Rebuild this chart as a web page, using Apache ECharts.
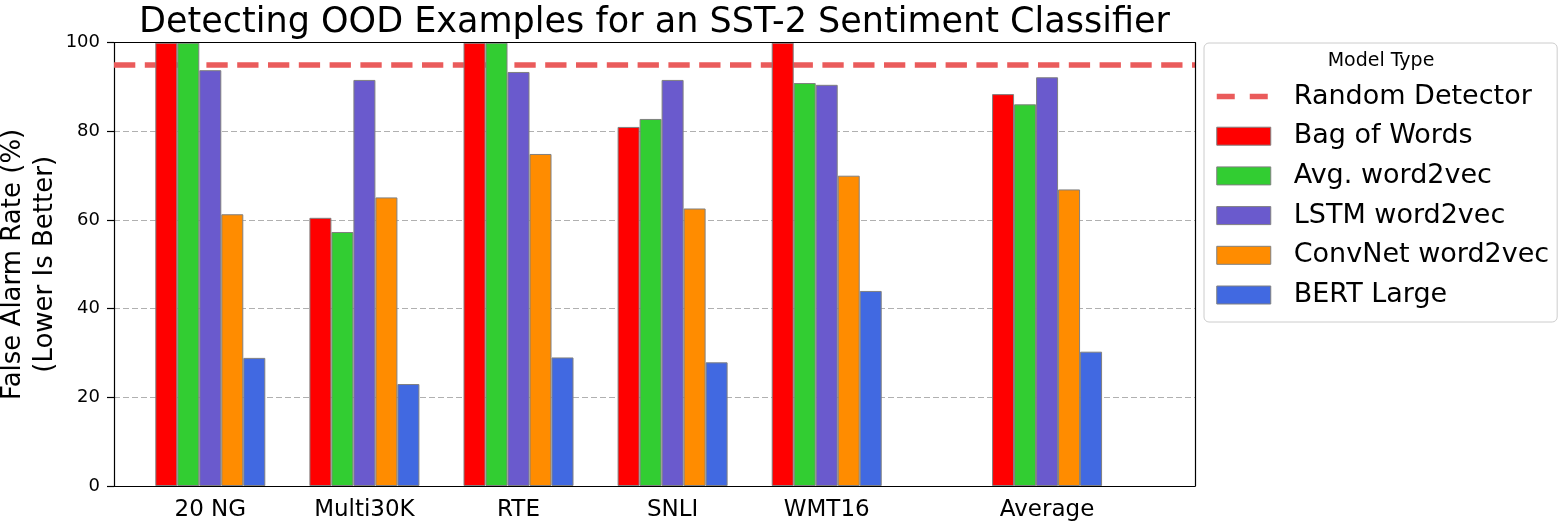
<!DOCTYPE html>
<html>
<head>
<meta charset="utf-8">
<script src="https://cdn.jsdelivr.net/npm/echarts@6/dist/echarts.min.js"></script>
<style>
  html, body { margin: 0; padding: 0; background: #fff; }
  #chart { width: 1563px; height: 525px; }
</style>
</head>
<body>
<div id="chart"></div>
<script>
// ---- data ----
const categories = ['20 NG', 'Multi30K', 'RTE', 'SNLI', 'WMT16', 'Average'];
const groupPositions = [0, 1, 2, 3, 4, 5.43];
const bagOfWords = [100, 60.5, 100, 81.0, 100, 88.4];
const avgWord2vec = [100, 57.3, 100, 82.8, 90.9, 86.1];
const lstmWord2vec = [93.8, 91.6, 93.4, 91.6, 90.5, 92.2];
const convnetWord2vec = [61.3, 65.1, 74.9, 62.6, 70.0, 66.9];
const bertLarge = [28.9, 23.0, 29.0, 27.9, 44.0, 30.3];
const randomDetector = 95;

const FONT = 'DejaVu Sans';
const xMin = -0.625, xMax = 6.39;
const LINE_COLOR = '#ea5b5b';

const chart = echarts.init(document.getElementById('chart'), null, { renderer: 'canvas' });

function pairs(vals) { return vals.map((v, i) => [groupPositions[i], v]); }
function barSeries(name, vals, color) {
  return {
    name, type: 'bar', data: pairs(vals), barWidth: 22, barGap: '0%', z: 2,
    itemStyle: { color, borderColor: '#808080', borderWidth: 1 },
    emphasis: { disabled: true }
  };
}
const barItemStyle = { borderColor: '#808080', borderWidth: 1 };

const option = {
  animation: false,
  title: [
    { text: 'Detecting OOD Examples for an SST-2 Sentiment Classifier', left: 654.5, top: 5, textAlign: 'center', padding: 0,
      textStyle: { fontFamily: FONT, fontSize: 35, fontWeight: 'normal', color: '#000' } },
    { text: 'Model Type', left: 1381, top: 52, textAlign: 'center', padding: 0,
      textStyle: { fontFamily: FONT, fontSize: 19, fontWeight: 'normal', color: '#000' } }
  ],
  grid: { left: 114, right: 368, top: 42.7, bottom: 39, containLabel: false, outerBoundsMode: 'none' },
  legend: {
    orient: 'vertical', left: 1204, top: 43, padding: [40, 8, 13.5, 10],
    itemWidth: 54, itemHeight: 18, itemGap: 12.7,
    borderColor: '#cccccc', borderWidth: 1, borderRadius: 5, backgroundColor: '#fff',
    textStyle: { fontFamily: FONT, fontSize: 27, color: '#000', lineHeight: 27, padding: [0, 0, 0, 18] },
    data: [
      { name: 'Random Detector',
        itemStyle: { color: 'rgba(0,0,0,0)', borderColor: 'rgba(0,0,0,0)', borderWidth: 0 },
        lineStyle: { color: LINE_COLOR, width: 5.5, type: [18, 15], opacity: 1 } },
      { name: 'Bag of Words', icon: 'rect', itemStyle: barItemStyle },
      { name: 'Avg. word2vec', icon: 'rect', itemStyle: barItemStyle },
      { name: 'LSTM word2vec', icon: 'rect', itemStyle: barItemStyle },
      { name: 'ConvNet word2vec', icon: 'rect', itemStyle: barItemStyle },
      { name: 'BERT Large', icon: 'rect', itemStyle: barItemStyle }
    ],
    selectedMode: false
  },
  xAxis: [
    { type: 'value', min: xMin, max: xMax, position: 'bottom', z: 5,
      axisLine: { show: true, onZero: false, lineStyle: { color: '#000', width: 1.2 } },
      axisTick: { show: false }, splitLine: { show: false },
      axisLabel: { customValues: groupPositions, margin: 13, fontFamily: FONT, fontSize: 23, color: '#000',
        formatter: v => { const i = groupPositions.indexOf(v); return i >= 0 ? categories[i] : ''; } } },
    { type: 'value', min: xMin, max: xMax, position: 'top', z: 5,
      axisLine: { show: true, onZero: false, lineStyle: { color: '#000', width: 1.2 } },
      axisTick: { show: false }, splitLine: { show: false }, axisLabel: { show: false } }
  ],
  yAxis: [
    { type: 'value', min: 0, max: 100, interval: 20, position: 'left',
      name: 'False Alarm Rate (%)\n(Lower Is Better)', nameLocation: 'middle', nameGap: 53, nameMoveOverlap: false,
      nameTextStyle: { fontFamily: FONT, fontSize: 26, lineHeight: 32, color: '#000' },
      axisLine: { show: true, onZero: false, lineStyle: { color: '#000', width: 1.2 } },
      axisTick: { show: true, length: 7, lineStyle: { color: '#000', width: 1.2 } },
      axisLabel: { margin: 14, fontFamily: FONT, fontSize: 18, color: '#000' },
      splitLine: { show: true, lineStyle: { color: '#b0b0b0', width: 1, type: [6, 3] } } },
    { type: 'value', min: 0, max: 100, interval: 20, position: 'right', z: 5,
      axisLine: { show: true, onZero: false, lineStyle: { color: '#000', width: 1.2 } },
      axisTick: { show: false }, axisLabel: { show: false }, splitLine: { show: false } }
  ],
  series: [
    { name: 'Random Detector', type: 'line', data: [], symbol: 'none', z: 1,
      itemStyle: { color: LINE_COLOR },
      lineStyle: { color: LINE_COLOR, width: 5.5, type: [18, 15] },
      markLine: { silent: true, symbol: 'none', z: 1, label: { show: false },
        lineStyle: { color: LINE_COLOR, width: 5.5, type: [21.3, 9.5], opacity: 1 },
        data: [{ yAxis: randomDetector }] } },
    barSeries('Bag of Words', bagOfWords, '#ff0000'),
    barSeries('Avg. word2vec', avgWord2vec, '#32cd32'),
    barSeries('LSTM word2vec', lstmWord2vec, '#6a5acd'),
    barSeries('ConvNet word2vec', convnetWord2vec, '#ff8c00'),
    barSeries('BERT Large', bertLarge, '#4169e1')
  ]
};
chart.setOption(option);
</script>
</body>
</html>
